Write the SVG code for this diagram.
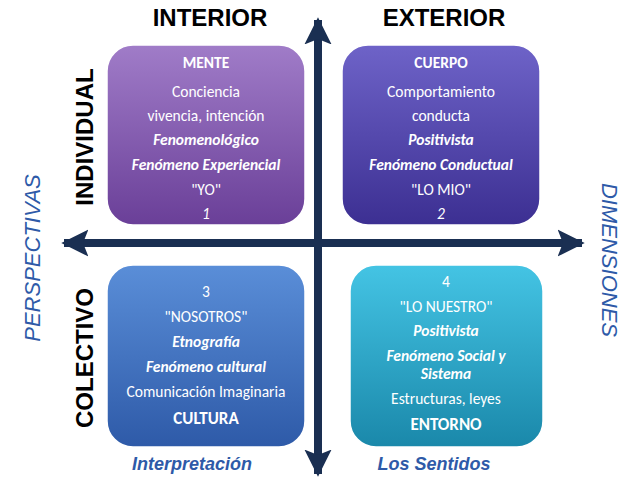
<svg xmlns="http://www.w3.org/2000/svg" width="640" height="485" viewBox="0 0 640 485">
<defs>
<linearGradient id="gp" x1="0" y1="0" x2="0" y2="1"><stop offset="0" stop-color="#a07cc8"/><stop offset="1" stop-color="#6a3f98"/></linearGradient>
<linearGradient id="gv" x1="0" y1="0" x2="0" y2="1"><stop offset="0" stop-color="#6e63c8"/><stop offset="1" stop-color="#3c2f92"/></linearGradient>
<linearGradient id="gb" x1="0" y1="0" x2="0" y2="1"><stop offset="0" stop-color="#5a8ed8"/><stop offset="1" stop-color="#2e5aa8"/></linearGradient>
<linearGradient id="gc" x1="0" y1="0" x2="0" y2="1"><stop offset="0" stop-color="#44c4e4"/><stop offset="1" stop-color="#1a88aa"/></linearGradient>
<marker id="ah" viewBox="0 0 10 10" refX="9" refY="5" markerWidth="3.4" markerHeight="3.4" orient="auto-start-reverse"><path d="M0,0 L10,5 L0,10 L2,5 z" fill="#1a2f52"/></marker>
</defs>
<style>
text{font-family:Carlito,Calibri,"Liberation Sans",sans-serif;fill:#fff;text-anchor:middle;font-size:15.5px}
.b{font-weight:bold}.i{font-style:italic;font-weight:bold}.n{font-style:italic}
.h{fill:#000;font-size:24px;font-weight:bold;font-family:"Liberation Sans",sans-serif}
.s{fill:#2e5aa8;font-size:22px;font-style:italic;font-family:"Liberation Sans",sans-serif}
.f{fill:#2e5aa8;font-size:18px;font-style:italic;font-weight:bold;font-family:"Liberation Sans",sans-serif}
rect{stroke:#fff;stroke-width:1.5}
</style>
<rect width="640" height="485" fill="#fff" stroke="none"/>
<g id="connectors" stroke="#1a2f52" stroke-width="8" fill="none">
<line x1="318" y1="20" x2="318" y2="474" marker-start="url(#ah)" marker-end="url(#ah)"/>
<line x1="64" y1="243" x2="582" y2="243" marker-start="url(#ah)" marker-end="url(#ah)"/>
</g>
<g id="labels">
<text class="h" x="210" y="26">INTERIOR</text>
<text class="h" x="444" y="26">EXTERIOR</text>
<text class="h" transform="translate(93,137) rotate(-90)">INDIVIDUAL</text>
<text class="h" transform="translate(93,358) rotate(-90)">COLECTIVO</text>
<text class="s" transform="translate(40,258) rotate(-90)">PERSPECTIVAS</text>
<text class="s" transform="translate(602,260) rotate(90)">DIMENSIONES</text>
<text class="f" x="192" y="470">Interpretación</text>
<text class="f" x="434" y="470">Los Sentidos</text>
</g>
<g id="mente">
<rect x="107" y="45" width="198" height="180" rx="26" fill="url(#gp)"/>
<text class="b" x="206" y="68">MENTE</text>
<text x="206" y="97">Conciencia</text>
<text x="206" y="121">vivencia, intención</text>
<text class="i" x="206" y="145">Fenomenológico</text>
<text class="i" x="206" y="170">Fenómeno Experiencial</text>
<text x="206" y="195">"YO"</text>
<text class="n" x="206" y="219">1</text>
</g>
<g id="cuerpo">
<rect x="342" y="45" width="198" height="180" rx="26" fill="url(#gv)"/>
<text class="b" x="441" y="68">CUERPO</text>
<text x="441" y="97">Comportamiento</text>
<text x="441" y="121">conducta</text>
<text class="i" x="441" y="145">Positivista</text>
<text class="i" x="441" y="170">Fenómeno Conductual</text>
<text x="441" y="195">"LO MIO"</text>
<text class="n" x="441" y="219">2</text>
</g>
<g id="cultura">
<rect x="107" y="265" width="198" height="182" rx="26" fill="url(#gb)"/>
<text x="206" y="297">3</text>
<text x="206" y="322">"NOSOTROS"</text>
<text class="i" x="206" y="347">Etnografía</text>
<text class="i" x="206" y="372">Fenómeno cultural</text>
<text x="206" y="397">Comunicación Imaginaria</text>
<text class="b" x="206" y="424" style="font-size:17px">CULTURA</text>
</g>
<g id="entorno">
<rect x="350" y="265" width="193" height="182" rx="26" fill="url(#gc)"/>
<text x="446" y="287">4</text>
<text x="446" y="312">"LO NUESTRO"</text>
<text class="i" x="446" y="336">Positivista</text>
<text class="i" x="446" y="361">Fenómeno Social y</text>
<text class="i" x="446" y="379">Sistema</text>
<text x="446" y="404">Estructuras, leyes</text>
<text class="b" x="446" y="430" style="font-size:17px">ENTORNO</text>
</g>
</svg>
